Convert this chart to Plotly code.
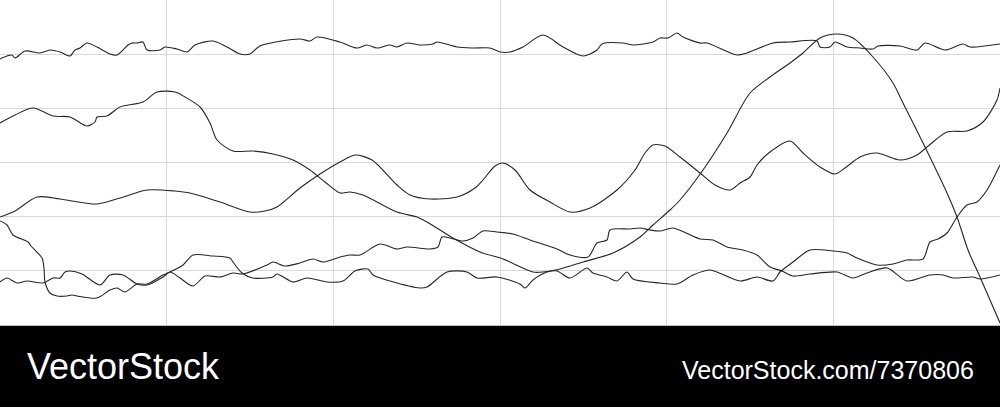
import plotly.graph_objects as go

# ---- data (x: time index 0..1000, y: value 0..325) ----
a_x = [0,7,12,15,25,40,50,60,70,75,80,87,97,110,117,128,132,137,143,147,160,165,177,187,195,213,227,240,250,260,300,310,317,340,357,367,377,390,397,407,420,433,437,457,473,490,500,510,523,543,563,583,597,602,623,633,653,660,668,677,683,700,707,737,747,773,790,817,820,830,835,847,860,873,878,900,917,925,945,963,970,1000]
a_y = [266,269,270,267,274,272,275,273,269,275,277,282,278,271,270,280,282,282,283,275,275,278,276,273,280,284,278,271,271,279,286,284,288,283,277,280,277,280,278,282,280,281,283,278,277,277,273,273,278,290,278,269,275,281,282,280,283,287,287,292,288,282,282,270,272,282,283,284,278,278,283,278,277,276,279,279,275,282,275,281,278,281]

b_x = [0,15,33,53,70,87,95,97,107,120,143,157,175,185,200,210,217,233,253,273,293,310,325,340,350,363,397,417,427,453,480,503,533,543,560,583,613,640,653,670,680,703,727,750,770,790,803,820,837,853,873,893,903,925,947,957,968,980,1000]
b_y = [202,210,217,209,208,199,203,208,209,218,223,233,233,228,218,202,185,174,174,171,165,155,143,132,133,130,113,108,103,87,73,66,53,53,56,63,72,88,100,115,125,155,192,232,248,262,272,287,291,287,268,242,222,178,132,108,75,48,2]

c_x = [0,15,37,60,97,120,147,175,190,220,250,265,277,300,320,340,355,372,397,410,430,457,475,483,495,503,515,530,550,570,590,617,635,645,653,665,680,700,715,730,740,750,757,770,790,803,820,835,845,860,877,900,917,927,947,967,983,997,1000]
c_y = [108,114,128,126,121,127,135,134,132,123,113,114,118,137,151,163,170,165,140,130,126,128,137,145,159,162,155,135,123,113,117,135,155,172,180,179,168,152,140,135,142,148,160,173,184,172,158,151,157,168,172,165,170,178,193,194,203,225,237]

e_x = [0,7,13,28,31,42,44,45,50,57,67,72,77,97,110,117,125,137,147,163,170,183,193,213,230,233,242,253,273,277,293,307,327,343,355,368,373,390,420,427,447,467,477,497,520,525,533,547,557,570,587,593,607,617,627,633,660,677,693,710,740,757,773,780,793,810,833,847,857,877,893,907,923,930,938,947,957,967,977,987,1000]
e_y = [104,100,90,83,79,67,57,43,32,29,29,30,29,27,35,37,33,41,41,50,53,60,70,69,67,63,52,47,48,51,43,47,43,44,54,56,50,44,37,38,53,53,47,48,41,37,45,53,54,47,57,52,48,44,53,46,42,41,50,55,44,48,44,53,63,75,74,72,67,60,61,65,66,83,86,92,108,120,123,135,160]

f_x = [0,7,17,27,43,53,60,65,70,82,100,110,123,137,147,163,170,180,193,205,220,233,243,267,273,285,300,313,323,340,350,360,380,397,407,430,438,442,450,463,473,483,497,513,530,557,570,588,597,607,610,630,640,650,660,673,700,713,727,743,757,770,782,793,810,837,853,867,887,907,930,943,953,973,980,1000]
f_y = [43,47,42,44,42,47,47,53,54,51,40,50,50,41,40,48,53,47,39,49,48,52,51,60,63,59,62,66,63,68,70,70,81,76,78,76,78,88,87,84,87,94,93,91,85,76,70,68,82,85,95,96,97,95,94,97,86,85,78,75,70,58,54,49,51,53,47,52,57,44,50,50,47,48,46,50]

series = [(a_x, a_y), (b_x, b_y), (c_x, c_y), (e_x, e_y), (f_x, f_y)]

fig = go.Figure()
for xs, ys in series:
    fig.add_trace(go.Scatter(x=xs, y=ys, mode="lines",
                             line=dict(color="#262626", width=1.1, shape="spline", smoothing=0.8),
                             hoverinfo="skip", showlegend=False))

fig.update_layout(
    width=1000, height=407,
    margin=dict(l=0, r=0, t=0, b=0),
    paper_bgcolor="black",
    plot_bgcolor="white",
    hovermode=False,
    xaxis=dict(range=[0, 1000], tick0=0, dtick=1000/6, showgrid=True, gridcolor="#d9d9d9", gridwidth=1,
               showticklabels=False, zeroline=False, showline=True, linecolor="#bdbdbd", mirror=True, ticks=""),
    yaxis=dict(range=[0, 325], tick0=0, dtick=325/6, showgrid=True, gridcolor="#d9d9d9", gridwidth=1,
               showticklabels=False, zeroline=False, showline=True, linecolor="#bdbdbd", mirror=True, ticks="",
               domain=[82/407, 1]),
    annotations=[
        dict(text="VectorStock", xref="paper", yref="paper", x=0.025, y=0.10, xanchor="left", yanchor="middle",
             showarrow=False, font=dict(family="Liberation Sans, Arial, sans-serif", size=36, color="white")),
        dict(text="VectorStock.com/7370806", xref="paper", yref="paper", x=0.68, y=0.09, xanchor="left",
             yanchor="middle", showarrow=False,
             font=dict(family="Liberation Sans, Arial, sans-serif", size=25, color="white")),
    ],
)

fig.write_html("out.html", config={"displayModeBar": False, "staticPlot": True},
               post_script="document.body.style.margin='0';document.body.style.overflow='hidden';")
